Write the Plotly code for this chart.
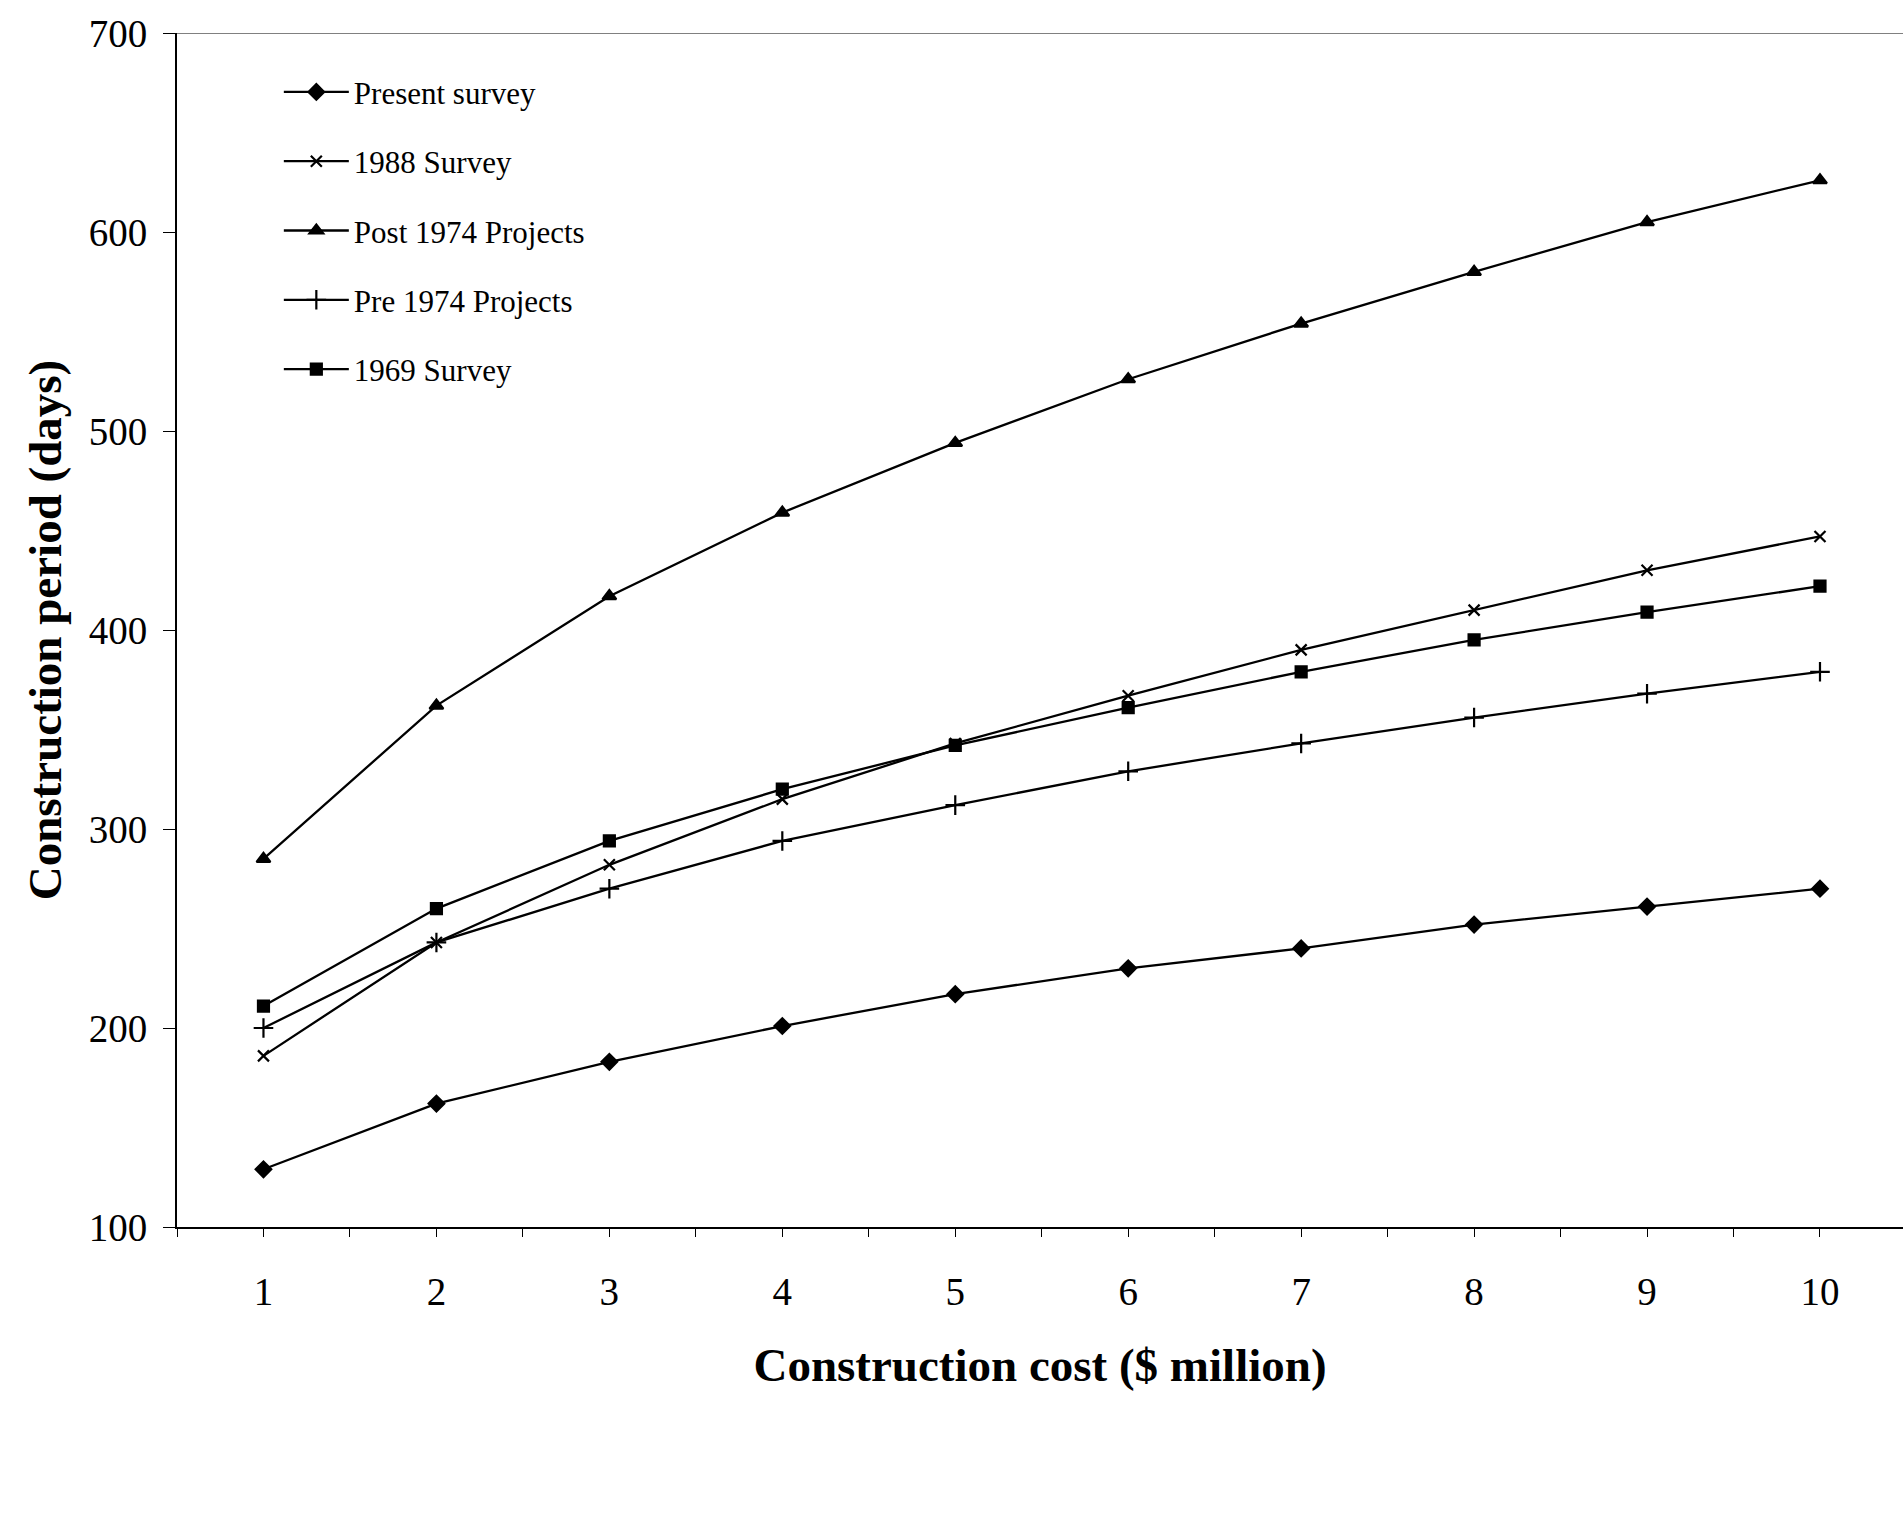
import plotly.graph_objects as go

cost = [1, 2, 3, 4, 5, 6, 7, 8, 9, 10]
present_survey = [129, 162, 183, 201, 217, 230, 240, 252, 261, 270]
survey_1988 = [186, 243, 282, 315, 343, 367, 390, 410, 430, 447]
post_1974 = [285, 362, 417, 459, 494, 526, 554, 580, 605, 626]
pre_1974 = [200, 243, 270, 294, 312, 329, 343, 356, 368, 379]
survey_1969 = [211, 260, 294, 320, 342, 361, 379, 395, 409, 422]

y_ticks = [100, 200, 300, 400, 500, 600, 700]

series = [
    ("Present survey", present_survey, "diamond", 12),
    ("1988 Survey", survey_1988, "x-thin", 11),
    ("Post 1974 Projects", post_1974, "triangle-up", 12),
    ("Pre 1974 Projects", pre_1974, "cross-thin", 14),
    ("1969 Survey", survey_1969, "square", 11),
]

FONT = "Liberation Serif, Times New Roman, serif"

fig = go.Figure()
for i, (name, vals, sym, size) in enumerate(series):
    fig.add_trace(go.Scatter(
        x=cost, y=vals, name=name, mode="lines+markers",
        legendgroup=f"g{i}",
        line=dict(color="black", width=2.3),
        marker=dict(symbol=sym, size=size, color="black",
                    line=dict(color="black", width=2.2)),
    ))

fig.add_shape(type="line", xref="paper", yref="y", x0=0, x1=1, y0=700, y1=700,
              line=dict(color="#808080", width=2))

fig.update_layout(
    width=1903, height=1516,
    margin=dict(l=177, r=0, t=33, b=289),
    paper_bgcolor="white", plot_bgcolor="white",
    font=dict(family=FONT, color="black", size=39),
    showlegend=True,
    legend=dict(x=0.059, y=0.973, xanchor="left", yanchor="top",
                font=dict(size=31, family=FONT), tracegroupgap=26,
                bgcolor="rgba(0,0,0,0)", itemwidth=65),
    xaxis=dict(
        range=[0.5, 10.48], tickmode="array", tickvals=cost,
        ticktext=[str(c) for c in cost],
        showgrid=False, zeroline=False,
        showline=True, linecolor="black", linewidth=2,
        ticks="outside", ticklen=8, tickwidth=1, tickcolor="black",
        ticklabelstandoff=21,
        minor=dict(ticks="outside", ticklen=8, tickwidth=1, tickcolor="black",
                   tickvals=[0.5 + k for k in range(10)]),
        tickfont=dict(size=39),
        title=dict(text="<b>Construction cost ($ million)</b>",
                   font=dict(size=47), standoff=36),
    ),
    yaxis=dict(
        range=[100, 700], tickmode="array", tickvals=y_ticks,
        showgrid=False, zeroline=False,
        showline=True, linecolor="black", linewidth=2,
        ticks="outside", ticklen=12, tickwidth=1, tickcolor="black",
        ticklabelstandoff=8,
        tickfont=dict(size=39),
        title=dict(text="<b>Construction period (days)</b>",
                   font=dict(size=47), standoff=12),
    ),
)

fig.write_html("out.html")
